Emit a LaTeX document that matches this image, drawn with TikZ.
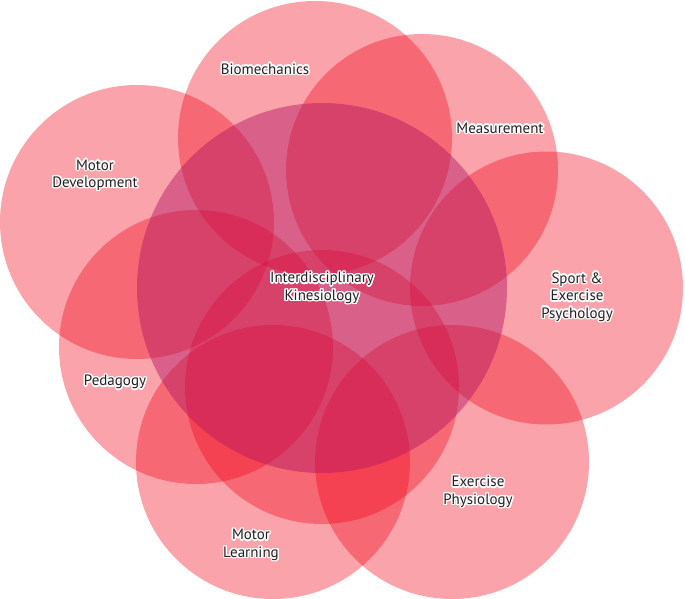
\documentclass[tikz,border=0pt]{standalone}
\usepackage{fontspec}
\setmainfont{PT Sans}
\definecolor{pinkc}{RGB}{242,0,22}
\definecolor{centc}{RGB}{178,20,97}
\definecolor{txtc}{RGB}{35,31,32}
\tikzset{
  petal/.style={fill=pinkc, fill opacity=0.36},
  core/.style={fill=centc, fill opacity=0.45},
  labtxt/.style={align=center, font=\fontsize{15}{17.5}\selectfont, text=txtc, inner sep=0pt},
  halo/.style={labtxt, text=white}
}
\newcommand{\lab}[3]{%
  \foreach \a [count=\i] in {0,22.5,...,337.5}{\node[halo] (#1-h\i) at ([shift={(\a:1.4)}]#2) {#3};}
  \node[labtxt] (#1) at (#2) {#3};}
\begin{document}
\begin{tikzpicture}[x=1pt,y=-1pt]
\useasboundingbox (0,0) rectangle (685,599);
% petals
\fill[petal] (315,138) circle[radius=137pt];   % Biomechanics
\fill[petal] (422,170) circle[radius=136pt];   % Measurement
\fill[petal] (137,222) circle[radius=137pt];   % Motor Development
\fill[petal] (546.5,288) circle[radius=136.5pt]; % Sport & Exercise Psychology
\fill[petal] (196,347) circle[radius=137pt];   % Pedagogy
\fill[petal] (273,462) circle[radius=137pt];   % Motor Learning
\fill[petal] (452,462) circle[radius=137pt];   % Exercise Physiology
\fill[petal] (322,387) circle[radius=137pt];   % inner
% core
\fill[core] (322,288) circle[radius=185pt];
% labels
\lab{biom}{265,69}{Biomechanics}
\lab{meas}{500,128}{Measurement}
\lab{mdev}{95,175}{Motor\\Development}
\lab{sep}{577,297}{Sport \&\\Exercise\\Psychology}
\lab{ik}{322,288}{Interdisciplinary\\Kinesiology}
\lab{ped}{115,382}{Pedagogy}
\lab{ml}{251,545}{Motor\\Learning}
\lab{ep}{478,492}{Exercise\\Physiology}
\end{tikzpicture}
\end{document}
